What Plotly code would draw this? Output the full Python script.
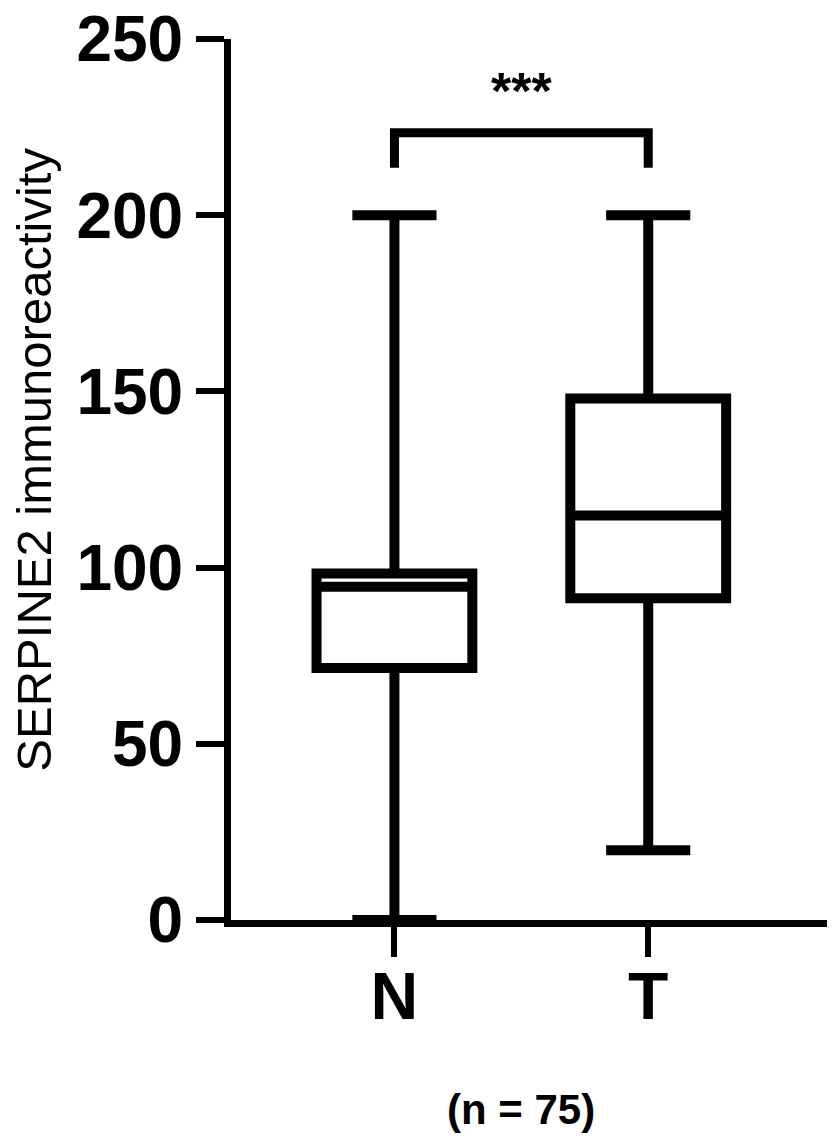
import plotly.graph_objects as go

# box statistics
groups = ['N', 'T']
group_pos = [0, 1]
q1 = [71.5, 91.3]
median = [94.6, 114.8]
q3 = [98.3, 148]
lower = [0, 19.8]
upper = [200, 200]

bracket_x = [0, 0, 1, 1]
bracket_y = [213.5, 223.4, 223.4, 213.5]
sig_label = '***'
y_ticks = [0, 50, 100, 150, 200, 250]

FONT = 'Liberation Sans, Arial, sans-serif'

# page body adds 8px on the top/left, so the figure is a bit smaller
W, H = 827, 1138
L, R, T, B = 222.5, 0, 31, 226
plot_w = W - L - R
plot_h = H - T - B

fig = go.Figure()

for i in range(len(groups)):
    fig.add_trace(
        go.Box(
            name=groups[i],
            x=[group_pos[i]],
            q1=[q1[i]],
            median=[median[i]],
            q3=[q3[i]],
            lowerfence=[lower[i]],
            upperfence=[upper[i]],
            width=0.614,
            whiskerwidth=0.54,
            line=dict(color='black', width=10),
            fillcolor='white',
            boxpoints=False,
            hoverinfo='skip',
        )
    )

fig.add_trace(
    go.Scatter(
        x=bracket_x,
        y=bracket_y,
        mode='lines',
        line=dict(color='black', width=9),
        hoverinfo='skip',
        cliponaxis=False,
    )
)

fig.add_annotation(
    x=0.5, y=235.3, xref='x', yref='y',
    text=sig_label, showarrow=False,
    font=dict(family=FONT, size=52, color='black', weight='bold'),
)

# y axis title
fig.add_annotation(
    x=(25 - L) / plot_w, y=(912 - 452) / plot_h, xref='paper', yref='paper',
    text='SERPINE2 immunoreactivity', textangle=-90, showarrow=False,
    xanchor='center', yanchor='middle',
    font=dict(family=FONT, size=49, color='black'),
)

# sample size below the axis
fig.add_annotation(
    x=0.5, y=-(1101 - 912) / plot_h, xref='x', yref='paper',
    text='(n = 75)', showarrow=False,
    xanchor='center', yanchor='middle',
    font=dict(family=FONT, size=42, color='black', weight='bold'),
)

fig.update_layout(
    width=W,
    height=H,
    margin=dict(l=L, r=R, t=T, b=B),
    paper_bgcolor='white',
    plot_bgcolor='white',
    showlegend=False,
    font=dict(family=FONT, color='black'),
)

fig.update_xaxes(
    type='linear',
    range=[-0.644, 1.736],
    tickvals=group_pos,
    ticktext=groups,
    showline=True, linecolor='black', linewidth=7,
    ticks='outside', ticklen=30, tickwidth=6, tickcolor='black',
    showgrid=False, zeroline=False, automargin=False,
    ticklabelstandoff=-17,
    tickfont=dict(family=FONT, size=66, color='black', weight='bold'),
)

fig.update_yaxes(
    range=[0, 250],
    tickvals=y_ticks,
    showline=True, linecolor='black', linewidth=7,
    ticks='outside', ticklen=28, tickwidth=6, tickcolor='black',
    showgrid=False, zeroline=False, automargin=False,
    ticklabeloverflow='allow',
    tickfont=dict(family=FONT, size=64, color='black', weight='bold'),
)

fig.write_html("out.html")
